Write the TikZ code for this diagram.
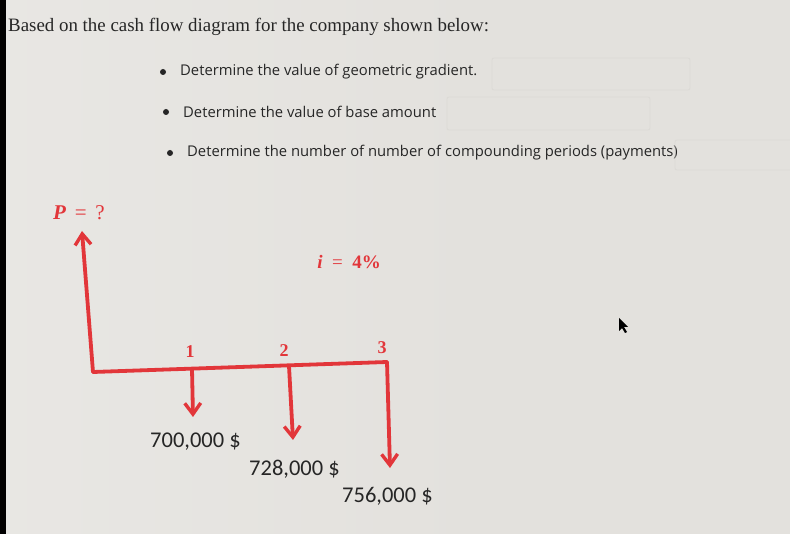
\documentclass[tikz,border=0pt]{standalone}
\usepackage{fontspec}
\setmainfont{Liberation Serif}
\newfontfamily\uifont{Open Sans}
\newfontfamily\calfont{Carlito}
\usetikzlibrary{arrows.meta}
\definecolor{bg}{HTML}{E3E1DD}
\definecolor{cfred}{HTML}{E2363A}
\definecolor{txt}{HTML}{262626}
\definecolor{boxline}{HTML}{DCDAD6}
\tikzset{
  flow/.style={draw=cfred, line width=3.8pt, line cap=round, line join=round},
  flowarrow/.style={flow, -{Straight Barb[length=11pt,width=16pt,line width=3.4pt]}},
  redlbl/.style={text=cfred, font=\bfseries\fontsize{18}{20}\selectfont, inner sep=0pt},
  amount/.style={text=txt, font=\calfont\fontsize{22.5}{25}\selectfont, inner sep=0pt, anchor=west},
  bullettext/.style={text=txt, font=\uifont\fontsize{14.8}{17}\selectfont, inner sep=0pt, anchor=west},
  bulletdot/.style={circle, fill=txt, inner sep=0pt, minimum size=6pt},
  answerbox/.style={draw=boxline, line width=0.8pt, rounded corners=2pt}
}
\begin{document}
\begin{tikzpicture}[x=1pt,y=-1pt]
\useasboundingbox (0,0) rectangle (790,534);
\fill[bg] (0,0) rectangle (790,534);
\shade[left color=bg!60!white, right color=bg, opacity=0.5] (6,0) rectangle (500,534);
\fill[black] (0,0) rectangle (5.5,534);

% title
\node[text=txt, font=\fontsize{18.9}{21}\selectfont, inner sep=0pt, anchor=west] (title) at (8,27) {Based on the cash flow diagram for the company shown below:};

% bullets
\node[bulletdot] (b1) at (163,72) {};
\node[bullettext] (t1) at (180,72) {Determine the value of geometric gradient.};
\node[bulletdot] (b2) at (166,112) {};
\node[bullettext] (t2) at (183,112) {Determine the value of base amount};
\node[bulletdot] (b3) at (170,153) {};
\node[bullettext] (t3) at (187,153) {Determine the number of number of compounding periods (payments)};

% faint answer boxes
\draw[answerbox] (492,58) rectangle (690,90);
\draw[answerbox] (447,97) rectangle (650,130);
\draw[answerbox] (675,140) rectangle (795,170);

% cash flow diagram
\coordinate (o) at (93,372);
\coordinate (pt) at (82,231);
\coordinate (e) at (387,362);
\coordinate (t1) at (192,369);
\coordinate (t2) at (289,366);
\coordinate (t3) at (387,362);
\coordinate (d1) at (193,417);
\coordinate (d2) at (293,440);
\coordinate (d3) at (390,468);

\draw[flow] (o) -- (e);
\draw[flowarrow] (o) -- (pt);
\draw[flowarrow] (t1) -- (d1);
\draw[flowarrow] (t2) -- (d2);
\draw[flowarrow] (t3) -- (d3);

\node[text=cfred, font=\fontsize{21}{23}\selectfont, inner sep=0pt] (P) at (79,213) {\textbf{\textit{P}}\ \,=\,\ ?};
\node[text=cfred, font=\fontsize{19}{21}\selectfont, inner sep=0pt] (rate) at (349,262) {\textbf{\textit{i}}\ \ =\ \ \textbf{4\%}};
\node[redlbl] (n1) at (190,352) {1};
\node[redlbl] (n2) at (284,351) {2};
\node[redlbl] (n3) at (382,348) {3};

\node[amount] (a1) at (150,442) {700,000 \$};
\node[amount] (a2) at (249,469) {728,000 \$};
\node[amount] (a3) at (342,496) {756,000 \$};

% mouse pointer
\fill[black] (619,318) -- (619,331) -- (622,328) -- (625,333) -- (627,332) -- (624,327) -- (628,327) -- cycle;
\end{tikzpicture}
\end{document}
